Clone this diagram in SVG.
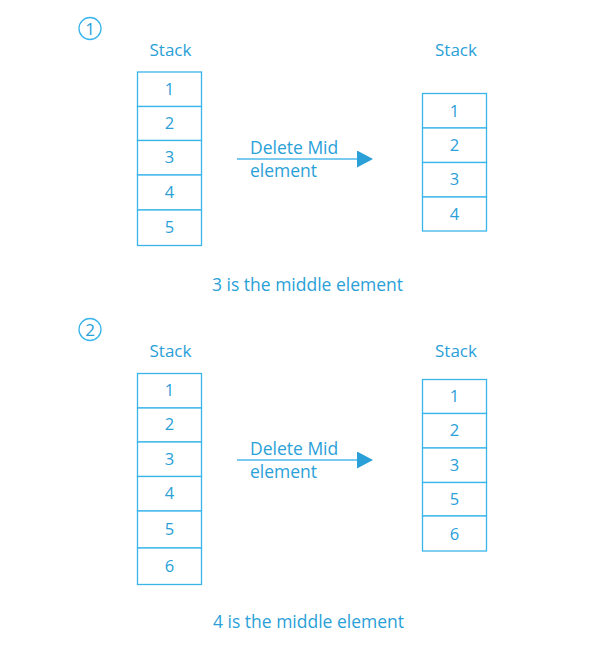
<svg xmlns="http://www.w3.org/2000/svg" width="596" height="662" viewBox="0 0 596 662">
<defs>
<style>
text{font-family:"Open Sans","Noto Sans","Liberation Sans",sans-serif;fill:#2a9fd8;}
.lbl{font-size:17px;text-anchor:middle;}
.num{font-size:16.5px;text-anchor:middle;}
.cnum{font-size:17px;text-anchor:middle;}
.cap{font-size:17.5px;text-anchor:middle;}
.op{font-size:17.5px;}
.cell{fill:#fff;stroke:#3ab5ec;stroke-width:1.3;}
.circ{fill:none;stroke:#3ab5ec;stroke-width:1.3;}
.arr{stroke:#4cb8e8;stroke-width:1.5;fill:none;}
</style>
<marker id="ah" markerWidth="16" markerHeight="17" refX="0" refY="8.5" orient="auto" markerUnits="userSpaceOnUse">
<path d="M0,0 L16,8.5 L0,17 Z" fill="#2a9fd8"/>
</marker>
</defs>
<rect width="596" height="662" fill="#fff"/>

<g id="step1">
<circle class="circ" cx="90" cy="28.5" r="11"/>
<text class="cnum" x="90" y="34.5">1</text>
</g>

<g id="stack1-before">
<text class="lbl" x="170.5" y="55.5">Stack</text>
<rect class="cell" x="137.5" y="72" width="64" height="34.5"/>
<rect class="cell" x="137.5" y="106.5" width="64" height="34"/>
<rect class="cell" x="137.5" y="140.5" width="64" height="34.5"/>
<rect class="cell" x="137.5" y="175" width="64" height="35"/>
<rect class="cell" x="137.5" y="210" width="64" height="35.5"/>
<text class="num" x="169.5" y="95">1</text>
<text class="num" x="169.5" y="129">2</text>
<text class="num" x="169.5" y="163">3</text>
<text class="num" x="169.5" y="198">4</text>
<text class="num" x="169.5" y="233">5</text>
</g>

<g id="stack1-after">
<text class="lbl" x="456" y="55.5">Stack</text>
<rect class="cell" x="422.5" y="93.5" width="64" height="34.5"/>
<rect class="cell" x="422.5" y="128" width="64" height="34.5"/>
<rect class="cell" x="422.5" y="162.5" width="64" height="34.5"/>
<rect class="cell" x="422.5" y="197" width="64" height="34"/>
<text class="num" x="454.5" y="117">1</text>
<text class="num" x="454.5" y="151">2</text>
<text class="num" x="454.5" y="185">3</text>
<text class="num" x="454.5" y="220">4</text>
</g>

<g id="caption1">
<text class="cap" x="307.5" y="290.5">3 is the middle element</text>
</g>

<g id="step2">
<circle class="circ" cx="90" cy="329.5" r="11"/>
<text class="cnum" x="90" y="335.5">2</text>
</g>

<g id="stack2-before">
<text class="lbl" x="170.5" y="356.5">Stack</text>
<rect class="cell" x="137.5" y="373.5" width="64" height="34.5"/>
<rect class="cell" x="137.5" y="408" width="64" height="34"/>
<rect class="cell" x="137.5" y="442" width="64" height="34.5"/>
<rect class="cell" x="137.5" y="476.5" width="64" height="34.5"/>
<rect class="cell" x="137.5" y="511" width="64" height="37"/>
<rect class="cell" x="137.5" y="548" width="64" height="36.5"/>
<text class="num" x="169.5" y="396">1</text>
<text class="num" x="169.5" y="430">2</text>
<text class="num" x="169.5" y="465">3</text>
<text class="num" x="169.5" y="499">4</text>
<text class="num" x="169.5" y="535">5</text>
<text class="num" x="169.5" y="572">6</text>
</g>

<g id="stack2-after">
<text class="lbl" x="456" y="356.5">Stack</text>
<rect class="cell" x="422.5" y="379.5" width="64" height="34"/>
<rect class="cell" x="422.5" y="413.5" width="64" height="34.5"/>
<rect class="cell" x="422.5" y="448" width="64" height="34.5"/>
<rect class="cell" x="422.5" y="482.5" width="64" height="33.5"/>
<rect class="cell" x="422.5" y="516" width="64" height="35"/>
<text class="num" x="454.5" y="402">1</text>
<text class="num" x="454.5" y="436">2</text>
<text class="num" x="454.5" y="471">3</text>
<text class="num" x="454.5" y="505">5</text>
<text class="num" x="454.5" y="540">6</text>
</g>

<g id="caption2">
<text class="cap" x="308.5" y="627.5">4 is the middle element</text>
</g>

<g id="connectors">
<line class="arr" x1="237" y1="159" x2="357" y2="159" marker-end="url(#ah)"/>
<line class="arr" x1="237" y1="460" x2="357" y2="460" marker-end="url(#ah)"/>
</g>

<g id="connector-labels">
<text class="op" x="250" y="153.5">Delete Mid</text>
<text class="op" x="250" y="176.5">element</text>
<text class="op" x="250" y="455">Delete Mid</text>
<text class="op" x="250" y="478">element</text>
</g>
</svg>
